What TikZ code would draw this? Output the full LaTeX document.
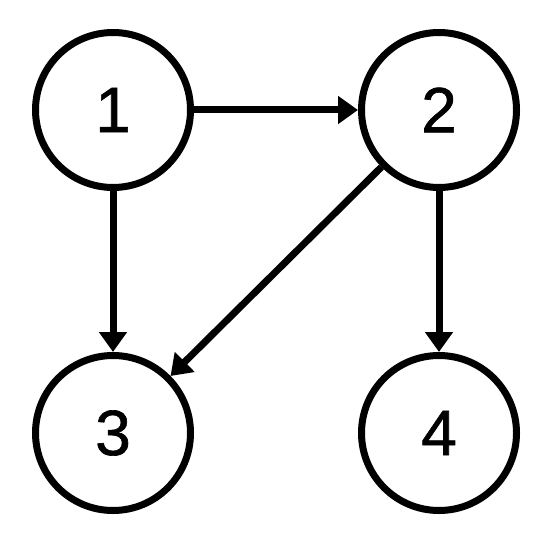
\documentclass[tikz,border=0pt]{standalone}
\usepackage{fontspec}
\setmainfont{Liberation Sans}
\newfontfamily\digitfont[FakeBold=1]{Liberation Sans}
\usetikzlibrary{arrows.meta}
\begin{document}
\begin{tikzpicture}[x=1pt,y=-1pt,
  vtx/.style={circle,draw=black,line width=7pt,minimum size=155pt,inner sep=0pt,font=\digitfont\fontsize{64}{64}\selectfont},
  edge/.style={line width=7pt,-{Triangle[length=20pt,width=27pt]}}]
\useasboundingbox (0,0) rectangle (556,540);
\node[vtx] (n1) at (113,110) {1};
\node[vtx] (n2) at (439,110) {2};
\node[vtx] (n3) at (113,433) {3};
\node[vtx] (n4) at (439,433) {4};
\draw[edge] (n1) -- (n2);
\draw[edge] (n1) -- (n3);
\draw[edge] (n2) -- (n3);
\draw[edge] (n2) -- (n4);
\end{tikzpicture}
\end{document}
